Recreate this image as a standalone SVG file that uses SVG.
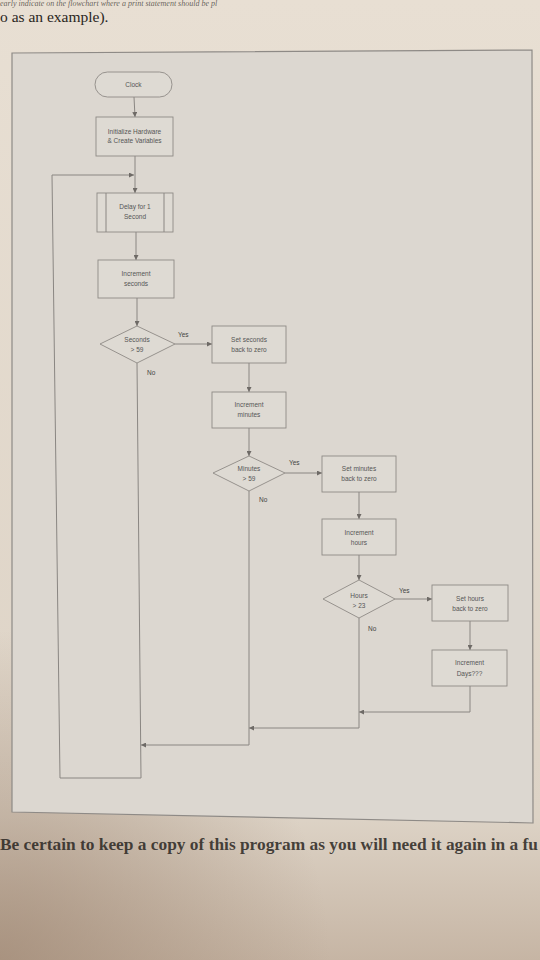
<svg xmlns="http://www.w3.org/2000/svg" width="540" height="960" viewBox="0 0 540 960">
<defs>
<linearGradient id="page" x1="0" y1="0" x2="0" y2="1">
<stop offset="0" stop-color="#e8dfd3"/>
<stop offset="0.85" stop-color="#ddd3c6"/>
<stop offset="1" stop-color="#c6b5a4"/>
</linearGradient>
<radialGradient id="shade" cx="0" cy="960" r="330" gradientUnits="userSpaceOnUse">
<stop offset="0" stop-color="#9c8470" stop-opacity="0.7"/>
<stop offset="1" stop-color="#9c8470" stop-opacity="0"/>
</radialGradient>
<marker id="ah" viewBox="0 0 10 10" refX="10" refY="5" markerWidth="5" markerHeight="5" orient="auto" markerUnits="userSpaceOnUse">
<path d="M0,0 L10,5 L0,10 z" fill="#6e6a66"/>
</marker>
<style>
.n{fill:#dedad3;stroke:#8e8a86;stroke-width:0.9}
.t{font-family:"Liberation Sans",Arial,sans-serif;font-size:6.5px;fill:#555;text-anchor:middle}
.l{font-family:"Liberation Sans",Arial,sans-serif;font-size:6.5px;fill:#444}
.c{fill:none;stroke:#8a8682;stroke-width:1}
.a{fill:none;stroke:#8a8682;stroke-width:1;marker-end:url(#ah)}
.p{font-family:"Liberation Serif","Times New Roman",serif;fill:#2a2622}
</style>
</defs>
<rect x="0" y="0" width="540" height="960" fill="url(#page)"/>
<rect x="0" y="600" width="540" height="360" fill="url(#shade)"/>
<text class="p" x="0" y="6" font-size="8" font-style="italic" fill-opacity="0.7">early indicate on the flowchart where a print statement should be pl</text>
<text class="p" x="0" y="22" font-size="15.5">o as an example).</text>
<polygon id="frame" points="12,53 532,50 533,823 12,812" fill="#dcd7d0" stroke="#8e8a86" stroke-width="1.2"/>

<g id="connectors">
<line class="a" x1="134" y1="97" x2="135" y2="117"/>
<line class="a" x1="135" y1="156" x2="135" y2="193"/>
<line class="a" x1="136" y1="232" x2="136" y2="260"/>
<line class="a" x1="137" y1="298" x2="137" y2="326"/>
<line class="a" x1="175" y1="344" x2="212" y2="344"/>
<line class="a" x1="249" y1="363" x2="249" y2="392"/>
<line class="a" x1="249" y1="428" x2="249" y2="456"/>
<line class="a" x1="285" y1="473" x2="322" y2="473"/>
<line class="a" x1="359" y1="492" x2="359" y2="519"/>
<line class="a" x1="359" y1="555" x2="359" y2="580"/>
<line class="a" x1="395" y1="599" x2="432" y2="599"/>
<line class="a" x1="470" y1="621" x2="470" y2="650"/>
<polyline class="a" points="470,686 470,712 359,712"/>
<polyline class="a" points="359,618 359,728 249,728"/>
<polyline class="a" points="249,491 249,745 141,745"/>
<polyline class="a" points="137,363 141,778 60,778 52,175 134,175"/>
<text class="l" x="178" y="337">Yes</text>
<text class="l" x="147" y="375">No</text>
<text class="l" x="289" y="465">Yes</text>
<text class="l" x="259" y="502">No</text>
<text class="l" x="399" y="593">Yes</text>
<text class="l" x="368" y="631">No</text>
</g>

<g id="clock">
<rect class="n" x="95" y="72" width="77" height="25" rx="12.5"/>
<text class="t" x="133.5" y="87">Clock</text>
</g>
<g id="init">
<rect class="n" x="96" y="117" width="77" height="39"/>
<text class="t" x="134.5" y="134">Initialize Hardware</text>
<text class="t" x="134.5" y="143">&amp; Create Variables</text>
</g>
<g id="delay">
<rect class="n" x="97" y="193" width="76" height="39"/>
<line class="c" x1="106" y1="193" x2="106" y2="232"/>
<line class="c" x1="164" y1="193" x2="164" y2="232"/>
<text class="t" x="135" y="209">Delay for 1</text>
<text class="t" x="135" y="219">Second</text>
</g>
<g id="incsec">
<rect class="n" x="98" y="260" width="76" height="38"/>
<text class="t" x="136" y="276">Increment</text>
<text class="t" x="136" y="286">seconds</text>
</g>
<g id="decsec">
<polygon class="n" points="137,326 175,344 137,363 100,344"/>
<text class="t" x="137" y="342">Seconds</text>
<text class="t" x="137" y="352">&gt; 59</text>
</g>
<g id="setsec">
<rect class="n" x="212" y="326" width="74" height="37"/>
<text class="t" x="249" y="342">Set seconds</text>
<text class="t" x="249" y="352">back to zero</text>
</g>
<g id="incmin">
<rect class="n" x="212" y="392" width="74" height="36"/>
<text class="t" x="249" y="407">Increment</text>
<text class="t" x="249" y="417">minutes</text>
</g>
<g id="decmin">
<polygon class="n" points="249,456 285,473 249,491 213,473"/>
<text class="t" x="249" y="471">Minutes</text>
<text class="t" x="249" y="481">&gt; 59</text>
</g>
<g id="setmin">
<rect class="n" x="322" y="456" width="74" height="36"/>
<text class="t" x="359" y="471">Set minutes</text>
<text class="t" x="359" y="481">back to zero</text>
</g>
<g id="inchr">
<rect class="n" x="322" y="519" width="74" height="36"/>
<text class="t" x="359" y="535">Increment</text>
<text class="t" x="359" y="545">hours</text>
</g>
<g id="dechr">
<polygon class="n" points="359,580 395,599 359,618 323,599"/>
<text class="t" x="359" y="598">Hours</text>
<text class="t" x="359" y="608">&gt; 23</text>
</g>
<g id="sethr">
<rect class="n" x="432" y="585" width="76" height="36"/>
<text class="t" x="470" y="601">Set hours</text>
<text class="t" x="470" y="611">back to zero</text>
</g>
<g id="incday">
<rect class="n" x="432" y="650" width="75" height="36"/>
<text class="t" x="469.5" y="665">Increment</text>
<text class="t" x="469.5" y="676">Days???</text>
</g>

<text class="p" x="0" y="850" font-size="16" font-weight="bold" fill-opacity="0.85" textLength="538" lengthAdjust="spacingAndGlyphs">Be certain to keep a copy of this program as you will need it again in a fu</text>
</svg>
